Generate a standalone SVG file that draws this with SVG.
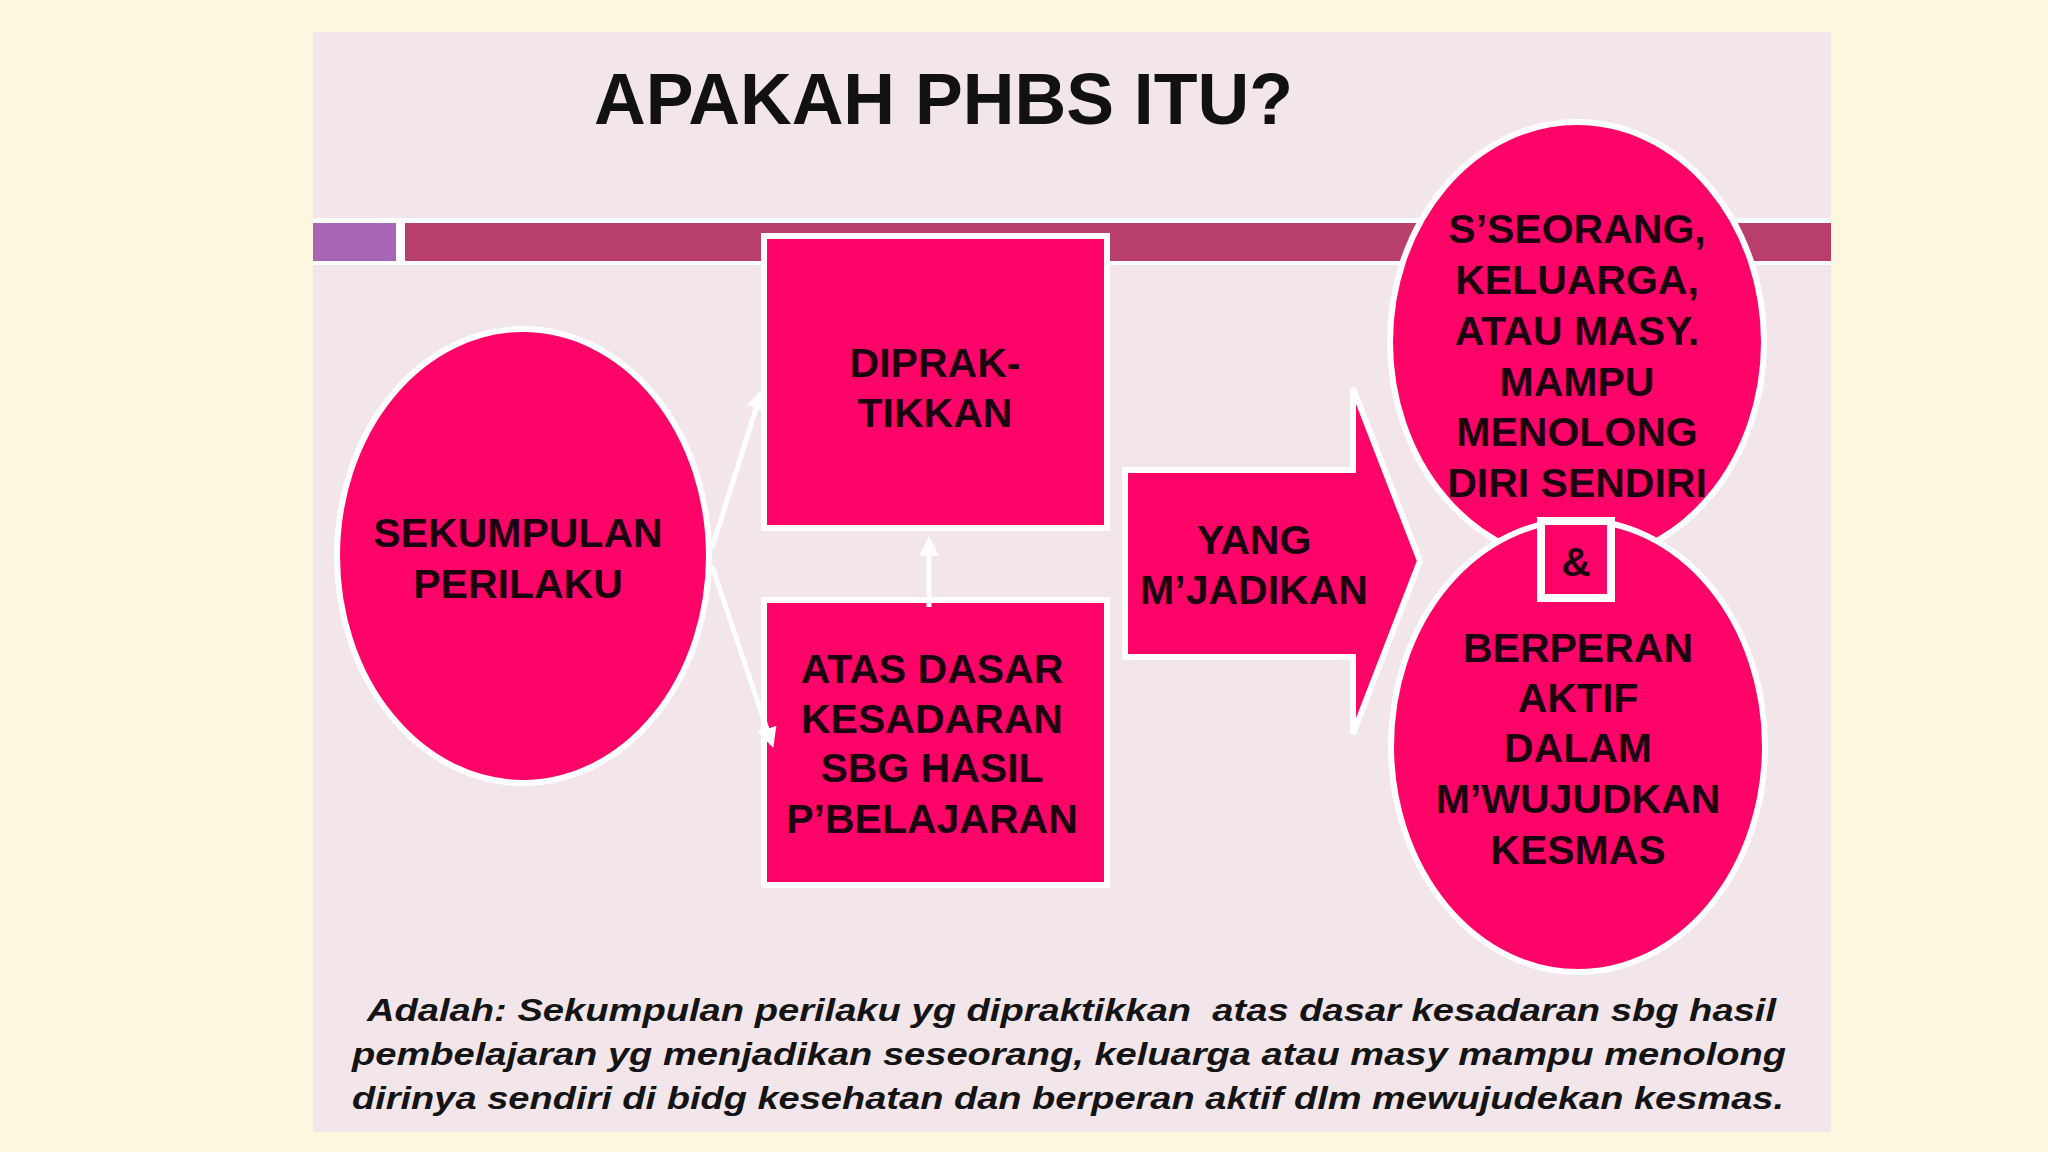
<svg xmlns="http://www.w3.org/2000/svg" width="2048" height="1152" viewBox="0 0 2048 1152">
<defs>
<style>
.node{fill:#FE0468;stroke:#FFFFFF;stroke-width:6}
.lbl{font-family:"Liberation Sans",Arial,sans-serif;font-weight:bold;font-size:41px;fill:#1C0010;text-anchor:middle}
.conn{stroke:#FFFFFF;stroke-width:5;fill:none}
.note{font-family:"Liberation Sans",Arial,sans-serif;font-weight:bold;font-style:italic;font-size:32px;fill:#141414}
</style>
<marker id="ah" viewBox="0 0 10 10" refX="8" refY="5" markerWidth="4" markerHeight="4" orient="auto" markerUnits="strokeWidth">
<path d="M0,0 L10,5 L0,10 Z" fill="#FFFFFF"/>
</marker>
</defs>
<rect x="0" y="0" width="2048" height="1152" fill="#FEF7E0"/>
<rect x="313" y="32" width="1518" height="1100" fill="#F2E6EA"/>
<g id="bar">
<rect x="313" y="218" width="1518" height="47" fill="#FFFFFF"/>
<rect x="313" y="223" width="83" height="38" fill="#A865B5"/>
<rect x="405" y="223" width="1426" height="38" fill="#B83F6B"/>
</g>
<text x="594" y="124" font-family="'Liberation Sans',Arial,sans-serif" font-weight="bold" font-size="72" fill="#111111" textLength="699" lengthAdjust="spacingAndGlyphs">APAKAH PHBS ITU?</text>

<g id="node-sekumpulan">
<ellipse class="node" cx="523" cy="556" rx="186" ry="227"/>
<text class="lbl" x="518" y="547">SEKUMPULAN</text>
<text class="lbl" x="518" y="598">PERILAKU</text>
</g>
<g id="node-dipraktikkan">
<rect class="node" x="764" y="236" width="343" height="292"/>
<text class="lbl" x="935" y="377">DIPRAK-</text>
<text class="lbl" x="935" y="427">TIKKAN</text>
</g>
<g id="node-atasdasar">
<rect class="node" x="764" y="600" width="343" height="285"/>
<text class="lbl" x="932" y="683">ATAS DASAR</text>
<text class="lbl" x="932" y="733">KESADARAN</text>
<text class="lbl" x="932" y="782">SBG HASIL</text>
<text class="lbl" x="932" y="833">P’BELAJARAN</text>
</g>
<g id="node-yang">
<path class="node" d="M1125,470 L1353,470 L1353,388 L1420,561 L1353,734 L1353,657 L1125,657 Z"/>
<text class="lbl" x="1254" y="554">YANG</text>
<text class="lbl" x="1254" y="604">M’JADIKAN</text>
</g>
<g id="node-seseorang">
<ellipse class="node" cx="1577" cy="342" rx="187" ry="220"/>
<text class="lbl" x="1577" y="243">S’SEORANG,</text>
<text class="lbl" x="1577" y="294">KELUARGA,</text>
<text class="lbl" x="1577" y="345">ATAU MASY.</text>
<text class="lbl" x="1577" y="396">MAMPU</text>
<text class="lbl" x="1577" y="446">MENOLONG</text>
<text class="lbl" x="1577" y="497">DIRI SENDIRI</text>
</g>
<g id="node-berperan">
<ellipse class="node" cx="1578" cy="746" rx="187" ry="226"/>
<text class="lbl" x="1578" y="662">BERPERAN</text>
<text class="lbl" x="1578" y="712">AKTIF</text>
<text class="lbl" x="1578" y="762">DALAM</text>
<text class="lbl" x="1578" y="813">M’WUJUDKAN</text>
<text class="lbl" x="1578" y="864">KESMAS</text>
</g>
<g id="node-and">
<rect x="1541" y="521" width="70" height="77" fill="#FE0468" stroke="#FFFFFF" stroke-width="8"/>
<text class="lbl" x="1576" y="576">&amp;</text>
</g>

<g id="connectors">
<line class="conn" x1="712" y1="548" x2="761" y2="393" marker-end="url(#ah)"/>
<line class="conn" x1="712" y1="566" x2="772" y2="744" marker-end="url(#ah)"/>
<line class="conn" x1="929" y1="607" x2="929" y2="540" marker-end="url(#ah)"/>
</g>

<g id="definition">
<text class="note" x="367" y="1021" textLength="1409" lengthAdjust="spacingAndGlyphs">Adalah: Sekumpulan perilaku yg dipraktikkan &#160;atas dasar kesadaran sbg hasil</text>
<text class="note" x="352" y="1065" textLength="1434" lengthAdjust="spacingAndGlyphs">pembelajaran yg menjadikan seseorang, keluarga atau masy mampu menolong</text>
<text class="note" x="352" y="1109" textLength="1432" lengthAdjust="spacingAndGlyphs">dirinya sendiri di bidg kesehatan dan berperan aktif dlm mewujudekan kesmas.</text>
</g>
</svg>
